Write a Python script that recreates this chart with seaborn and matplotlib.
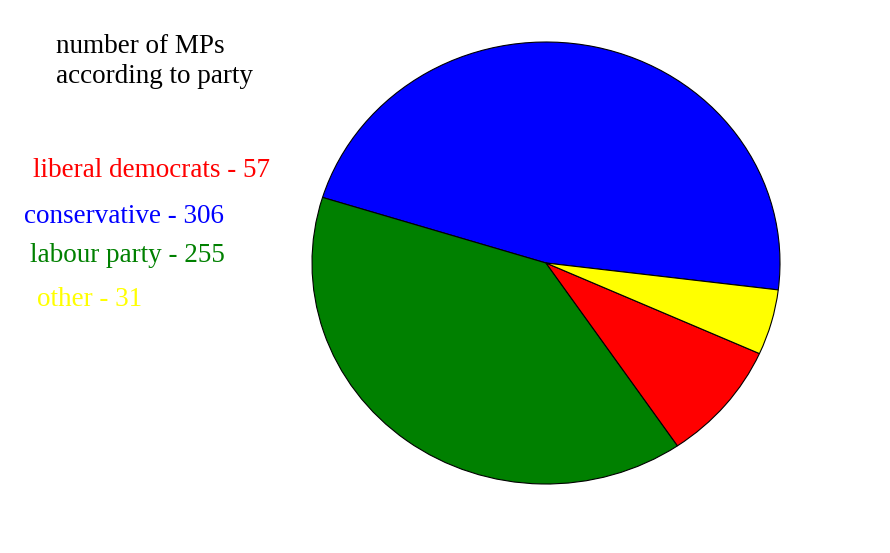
import matplotlib
matplotlib.use("Agg")
import matplotlib.pyplot as plt
import seaborn as sns

parties = ["conservative", "labour party", "liberal democrats", "other"]
seats = [306, 255, 57, 31]
colors = ["#0000ff", "#008000", "#ff0000", "#ffff00"]

# legend text order / baselines (pixels from top) as in the picture
legend_order = ["liberal democrats", "conservative", "labour party", "other"]
legend_x = [33, 24, 30, 37]
legend_y = [177, 223, 262, 306]

sns.set_theme(style="white")
plt.rcParams["font.family"] = ["Liberation Serif", "DejaVu Serif"]

W, H = 890, 553
fig = plt.figure(figsize=(W / 100, H / 100), dpi=100)
fig.patch.set_facecolor("white")

# pie occupies an ellipse roughly x 312..780, y 42..484
ax = fig.add_axes([312 / W, 1 - 484 / H, 468 / W, 442 / H])
ax.pie(seats, colors=colors, startangle=-7, counterclock=True,
       wedgeprops=dict(edgecolor="black", linewidth=0.8))
ax.set_aspect("auto")
ax.set_xlim(-1.0, 1.0)
ax.set_ylim(-1.0, 1.0)
ax.axis("off")

fs = 19.5
fig.text(56 / W, 1 - 53 / H, "number of MPs", fontsize=fs, color="black", va="baseline")
fig.text(56 / W, 1 - 83 / H, "according to party", fontsize=fs, color="black", va="baseline")

lookup = dict(zip(parties, zip(seats, colors)))
for name, x, y in zip(legend_order, legend_x, legend_y):
    val, col = lookup[name]
    fig.text(x / W, 1 - y / H, f"{name} - {val}", fontsize=fs, color=col, va="baseline")

fig.savefig("out.png", dpi=100, facecolor="white")
